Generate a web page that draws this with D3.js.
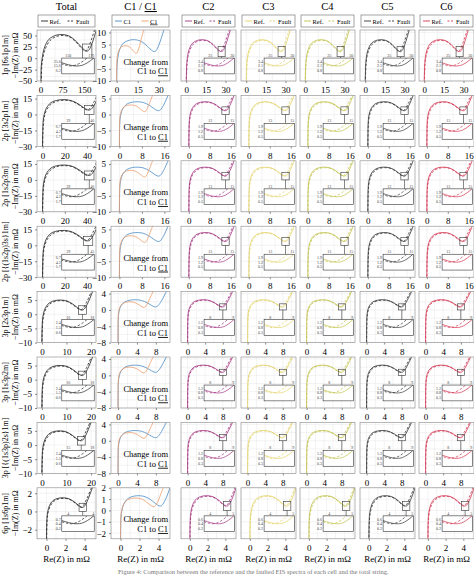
<!DOCTYPE html><html><head><meta charset="utf-8">
<script src="https://cdn.jsdelivr.net/npm/d3@7"></script>
<style>body{margin:0;background:#fff}text{font-family:"Liberation Serif","DejaVu Serif",serif}</style>
</head><body><svg id="c" width="474" height="575"></svg>
<script>
const columns=["Total","C1","C2","C3","C4","C5","C6"];
const colColors=["#222","#4a8cc6","#a3337f","#e3d36a","#c2c24a","#333","#d3334f"];
const c1Alt="#ee9e6c";
const rowNames=["1p [6s1p1m]","2p [3s2p1m]","2p [1s2p3m]","2p [{(1s2p)3s}1m]","3p [2s3p1m]","3p [1s3p2m]","3p [{(1s3p)2s}1m]","6p [1s6p1m]"];
const totalX=[[-12,190],[-5,48],[-5,48],[-5,48],[-2,22],[-2,22],[-2,22],[-1,5.2]];
const totalXT=[[0,75,150],[0,20,40],[0,20,40],[0,20,40],[0,10,20],[0,10,20],[0,10,20],[0,2,4]];
const totalY=[[-50,62],[-30,18],[-30,18],[-30,18],[-10,8],[-10,8],[-10,8],[-3,2.6]];
const totalYT=[[50,25,0,-25,-50],[15,0,-15,-30],[15,0,-15,-30],[15,0,-15,-30],[5,0,-5,-10],[5,0,-5,-10],[5,0,-5,-10],[2,0,-2]];
const cellX=[[-4,38],[-3,18],[-3,18],[-3,18],[-1.5,11],[-1.5,11],[-1.5,11],[-1,5.2]];
const cellXT=[[0,15,30],[0,8,16],[0,8,16],[0,8,16],[0,4,8],[0,4,8],[0,4,8],[0,2,4]];
const cellY=[[-10,11],[-10,6],[-10,6],[-10,6],[-8,4.5],[-8,4.5],[-8,4.5],[-2.5,2]];
const cellYT=[[10,5,0,-5,-10],[5,0,-5,-10],[5,0,-5,-10],[5,0,-5,-10],[4,0,-4,-8],[4,0,-4,-8],[4,0,-4,-8],[2,1,0,-1,-2]];
const totalDip=[160,42,42,41,16.5,16.5,16,3.8];
const totalPeak=[52,14,14,14,5,5,5,1.5];
const cellDip=[27,14,14,14,8,8,8,4.2];
const cellPeak=[7,4,4,4,2.5,2.5,2.5,1.3];
const altDip=[14,9,9,9,5.5,5.5,5.5,3.5];
const altPeak=[4.5,3,3,3,2,2,2,1.1];
const refShape=[[0,-9],[0.005,-1],[0.015,-0.4],[0.035,0],[0.08,0.42],[0.18,0.8],[0.33,0.97],[0.48,1],[0.62,0.93],[0.76,0.72],[0.88,0.46],[0.96,0.32],[1,0.3],[1.04,0.36],[1.12,0.72],[1.25,1.6],[1.4,2.6]];
const faultShape=[[0,-9],[0.01,-1],[0.025,-0.4],[0.05,0],[0.1,0.38],[0.2,0.74],[0.34,0.92],[0.48,0.96],[0.62,0.9],[0.74,0.72],[0.84,0.5],[0.92,0.34],[0.96,0.3],[1.01,0.4],[1.1,0.85],[1.22,1.6],[1.4,2.8]];

const svg=d3.select("#c");
const colLeft=[37,111,181,241,300,360,419],colW=[59,59,55,55,55,55,55];
const rowTop=r=>30+r*65.4,rowH=51;
let clipId=0;
columns.forEach((c,i)=>{
  const cx=colLeft[i]+colW[i]/2;
  const t=svg.append("text").attr("x",cx).attr("y",10).attr("text-anchor","middle").attr("font-size",10.5);
  if(i==1){t.text("C1 / ");t.append("tspan").text("C1").attr("text-decoration","underline");}else t.text(c);
  const lg=svg.append("g").attr("transform",`translate(${colLeft[i]+1},15)`);
  const lw=colW[i]-2;
  lg.append("rect").attr("width",lw).attr("height",12).attr("fill","#fff").attr("stroke","#666").attr("stroke-width",0.6);
  const c2=i==1?c1Alt:colColors[i];
  lg.append("line").attr("x1",3).attr("x2",10).attr("y1",6).attr("y2",6).attr("stroke",colColors[i]).attr("stroke-width",0.9);
  lg.append("line").attr("x1",lw/2+1).attr("x2",lw/2+8).attr("y1",6).attr("y2",6).attr("stroke",c2).attr("stroke-width",0.9).attr("stroke-dasharray",i==1?null:"2,1.5");
  lg.append("text").attr("x",11.5).attr("y",8.5).attr("font-size",6.5).text(i==1?"C1":"Ref.");
  const tt=lg.append("text").attr("x",lw/2+9.5).attr("y",8.5).attr("font-size",6.5).text(i==1?"C1":"Fault");
  if(i==1)tt.attr("text-decoration","underline");
});
rowNames.forEach((n,r)=>{
  const cy=rowTop(r)+rowH/2;
  svg.append("text").attr("transform",`translate(8,${cy}) rotate(-90)`).attr("text-anchor","middle").attr("font-size",8).text(n);
  svg.append("text").attr("transform",`translate(18,${cy}) rotate(-90)`).attr("text-anchor","middle").attr("font-size",8).text("−Im(Z) in mΩ");
});
function pts(shape,dip,peak,ymin){return shape.map(([u,v])=>[u*dip,v<-5?ymin-1:v*peak]);}
for(let r=0;r<8;r++){for(let ci=0;ci<7;ci++){
  const L=colLeft[ci],T=rowTop(r),W=colW[ci],H=rowH;
  const xd=ci==0?totalX[r]:cellX[r],yd=ci==0?totalY[r]:cellY[r];
  const xt=ci==0?totalXT[r]:cellXT[r],yt=ci==0?totalYT[r]:cellYT[r];
  const x=d3.scaleLinear().domain(xd).range([L,L+W]),y=d3.scaleLinear().domain(yd).range([T+H,T]);
  const g=svg.append("g");
  g.append("g").selectAll("line").data(x.ticks(5)).join("line").attr("x1",x).attr("x2",x).attr("y1",T).attr("y2",T+H).attr("stroke","#e6e6e6").attr("stroke-width",0.5);
  g.append("g").selectAll("line").data(y.ticks(5)).join("line").attr("y1",y).attr("y2",y).attr("x1",L).attr("x2",L+W).attr("stroke","#e6e6e6").attr("stroke-width",0.5);
  g.append("g").attr("transform",`translate(0,${T+H})`).call(d3.axisBottom(x).tickValues(xt).tickSize(2).tickFormat(d3.format("~g"))).call(a=>{a.select(".domain").remove();a.selectAll("text").attr("font-size",9).attr("font-family","Liberation Serif").attr("dy","0.8em");a.selectAll("line").attr("stroke","#888")});
  if(ci<2)g.append("g").attr("transform",`translate(${L},0)`).call(d3.axisLeft(y).tickValues(yt).tickSize(2).tickFormat(d=>d<0?"−"+(-d):d)).call(a=>{a.select(".domain").remove();a.selectAll("text").attr("font-size",9).attr("font-family","Liberation Serif");a.selectAll("line").attr("stroke","#888")});
  const id="cl"+(clipId++);
  svg.append("clipPath").attr("id",id).append("rect").attr("x",L).attr("y",T).attr("width",W).attr("height",H);
  const pg=g.append("g").attr("clip-path",`url(#${id})`);
  const line=d3.line().x(d=>x(d[0])).y(d=>y(d[1])).curve(d3.curveCatmullRom);
  const dip=ci==0?totalDip[r]:cellDip[r],pk=ci==0?totalPeak[r]:cellPeak[r];
  const col=colColors[ci];
  let curves;
  if(ci==1){curves=[[pts(refShape,dip,pk,yd[0]),col,null],[pts(refShape,altDip[r],altPeak[r],yd[0]),c1Alt,null]];}
  else curves=[[pts(refShape,dip,pk,yd[0]),col,null],[pts(faultShape,dip,pk,yd[0]),col,"2.5,1.8"]];
  curves.forEach(([p,cc,da])=>pg.append("path").attr("d",line(p)).attr("fill","none").attr("stroke",cc).attr("stroke-width",0.8).attr("stroke-dasharray",da));
  g.append("rect").attr("x",L).attr("y",T).attr("width",W).attr("height",H).attr("fill","none").attr("stroke","#888").attr("stroke-width",0.6);
  if(ci==1){
    g.append("text").attr("x",L+W-2).attr("y",T+H*0.68).attr("text-anchor","end").attr("font-size",8.5).text("Change from");
    const t2=g.append("text").attr("x",L+W-2).attr("y",T+H*0.87).attr("text-anchor","end").attr("font-size",8.5).text("C1 to ");
    t2.append("tspan").attr("text-decoration","underline").text("C1");
    continue;
  }
  const dipY=0.3*pk;
  const bx=[dip*0.9,dip*1.1],by=[dipY-0.3*pk,dipY+0.3*pk];
  g.append("rect").attr("x",x(bx[0])).attr("y",y(by[1])).attr("width",x(bx[1])-x(bx[0])).attr("height",y(by[0])-y(by[1])).attr("fill","none").attr("stroke","#333").attr("stroke-width",0.6);
  const iL=L+W*0.42,iR=L+W*0.97,iT=T+H*0.55,iB=T+H*0.86;
  g.append("line").attr("x1",x(dip)).attr("x2",x(dip)).attr("y1",y(by[0])).attr("y2",iT).attr("stroke","#333").attr("stroke-width",0.6);
  const ix=d3.scaleLinear().domain(bx).range([iL,iR]),iy=d3.scaleLinear().domain(by).range([iB,iT]);
  const id2="cl"+(clipId++);
  svg.append("clipPath").attr("id",id2).append("rect").attr("x",iL).attr("y",iT).attr("width",iR-iL).attr("height",iB-iT);
  g.append("rect").attr("x",iL).attr("y",iT).attr("width",iR-iL).attr("height",iB-iT).attr("fill","#fff");
  const ig=g.append("g").attr("clip-path",`url(#${id2})`);
  const il=d3.line().x(d=>ix(d[0])).y(d=>iy(d[1])).curve(d3.curveCatmullRom);
  curves.forEach(([p,cc,da])=>ig.append("path").attr("d",il(p)).attr("fill","none").attr("stroke",cc).attr("stroke-width",0.7).attr("stroke-dasharray",da));
  g.append("rect").attr("x",iL).attr("y",iT).attr("width",iR-iL).attr("height",iB-iT).attr("fill","none").attr("stroke","#333").attr("stroke-width",0.6);
  const f=d3.format(".1f");
  [0.8,0.5,0.2].forEach(fr=>{const v=by[0]+fr*(by[1]-by[0]);g.append("text").attr("x",iL-1).attr("y",iy(v)+1.5).attr("text-anchor","end").attr("font-size",4).attr("fill","#444").text(f(v));});
  [[0.2,"middle"],[1,"end"]].forEach(([fr,an])=>{const v=bx[0]+fr*(bx[1]-bx[0]);g.append("text").attr("x",ix(v)).attr("y",iT-1).attr("text-anchor",an).attr("font-size",4).attr("fill","#444").text(Math.round(v));});
}}
columns.forEach((c,i)=>svg.append("text").attr("x",colLeft[i]+colW[i]/2).attr("y",562).attr("text-anchor","middle").attr("font-size",9).text("Re(Z) in mΩ"));
svg.append("text").attr("x",118).attr("y",574).attr("font-size",6.5).attr("fill","#777").text("Figure 4: Comparison between the reference and the faulted EIS spectra of each cell and the total string.");
</script></body></html>
